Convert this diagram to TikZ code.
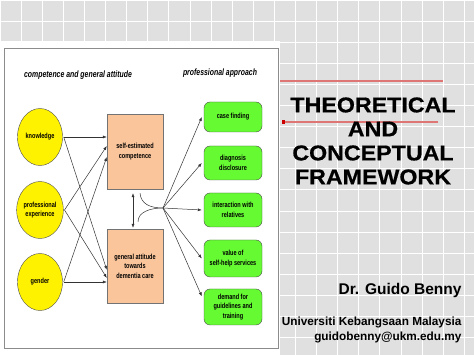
\documentclass[tikz,border=0pt]{standalone}
\usepackage{fontspec}
\setmainfont{Liberation Sans}
\newfontfamily\narrowsf[FakeStretch=0.75]{Liberation Sans}
\newfontfamily\titlesf[FakeStretch=1.08,FakeBold=0.6]{Liberation Sans}
\usetikzlibrary{shapes.geometric,arrows.meta}

\definecolor{slidegray}{RGB}{224,224,224}
\definecolor{peach}{RGB}{250,197,155}
\definecolor{limegreen}{RGB}{102,250,51}
\definecolor{rulered}{RGB}{222,118,118}

\tikzset{
  boxfont/.style={font=\narrowsf\bfseries\fontsize{7.4}{9.5}\selectfont},
  factor/.style={ellipse, draw=black!70, fill=yellow, minimum width=45pt,
    minimum height=57pt, inner sep=0pt, align=center, boxfont},
  midbox/.style={rectangle, draw=black!55, fill=peach, minimum width=56pt,
    minimum height=75pt, align=center, boxfont},
  outbox/.style={rectangle, rounded corners=6pt, draw=black!70, fill=limegreen,
    minimum width=58pt, inner sep=1pt, align=center, boxfont},
  heading/.style={font=\narrowsf\bfseries\itshape\fontsize{9.2}{11}\selectfont},
  link/.style={-{Latex[length=4pt,width=3pt]}, draw=black!80, line width=0.5pt},
}

\begin{document}
\begin{tikzpicture}[x=1pt,y=-1pt]
    \useasboundingbox (0,0) rectangle (474,355);
    % slide background
    \fill[slidegray] (0,0) rectangle (474,355);
    \foreach \i in {0,...,22}
        \draw[white, line width=0.8pt] (\i*21.1,0) -- (\i*21.1,355);
    \foreach \j in {0,...,16}
        \draw[white, line width=0.8pt] (0,\j*21.1) -- (474,\j*21.1);
    \fill[white] (0,41) rectangle (280,355);
    \draw[black!45, line width=0.8pt] (4,48) rectangle (278,348);

    \node[heading] (lefthead) at (78,75) {competence and general attitude};
    \node[heading] (righthead) at (220,73) {professional approach};

    % influencing factors
    \node[factor] (know) at (40,137) {knowledge};
    \node[factor] (profexp) at (40,210) {professional\\experience};
    \node[factor] (gender) at (40,282) {gender};

    % competence and attitude
    \node[midbox] (selfcomp) at (135,151.5) {self-estimated\\competence};
    \node[midbox, minimum height=74pt] (attitude) at (135,266) {general attitude\\towards\\dementia care};

    % professional approach
    \node[outbox, minimum height=30pt] (casefind) at (233,117) {case finding};
    \node[outbox, minimum height=34pt] (diagnosis) at (233,163) {diagnosis\\disclosure};
    \node[outbox, minimum height=34pt] (interact) at (233,210) {interaction with\\relatives};
    \node[outbox, minimum height=37pt] (selfhelp) at (233,258.5) {value of\\self-help services};
    \node[outbox, minimum height=36pt] (demand) at (233,307) {demand for\\guidelines and\\training};

    \draw[link] ([xshift=1pt]know.east) -- (selfcomp.west |- know.east);
    \draw[link] ([xshift=1pt]know.east) -- (attitude.188);
    \draw[link] ([xshift=1pt]profexp.east) -- (selfcomp.169);
    \draw[link] ([xshift=1pt]profexp.east) -- (attitude.203);
    \draw[link] ([xshift=1pt]gender.east) -- (selfcomp.191);
    \draw[link] ([xshift=1pt]gender.east) -- (attitude.west |- gender.east);

    \draw[{Latex[length=4pt,width=3pt]}-{Latex[length=4pt,width=3pt]}, black!80, line width=0.5pt]
        ([shift={(-2,4)}]selfcomp.south) -- ([shift={(-2,-1)}]attitude.north);

    % joint effect
    \coordinate (merge) at (163,208);
    \draw[black!80, line width=0.5pt] ([shift={(5,4)}]selfcomp.south) .. controls (141,204) and (150,208) .. (merge);
    \draw[black!80, line width=0.5pt] ([shift={(3,-7)}]attitude.north) .. controls (138,212) and (150,208) .. (merge);
    \draw[link] (merge) -- ([xshift=-2pt]casefind.west);
    \draw[link] (merge) -- ([xshift=-2pt]diagnosis.west);
    \draw[link] (merge) -- ([xshift=-2pt]interact.west);
    \draw[link] (merge) -- ([xshift=-2pt]selfhelp.west);
    \draw[link] (merge) -- ([xshift=-2pt]demand.160);

    % title side
    \draw[rulered, line width=1.2pt] (280,81) -- (443,81);
    \draw[rulered, line width=1.2pt] (283,122) -- (438,122);
    \fill[red!80!black] (282,120) rectangle (285,124);
    \node[align=center, font=\titlesf\bfseries\fontsize{21.5}{24}\selectfont] (title) at (373,141)
        {THEORETICAL\\AND\\CONCEPTUAL\\FRAMEWORK};
    \node[anchor=east, font=\bfseries\fontsize{15.5}{18}\selectfont] (author) at (465,290) {Dr. Guido Benny};
    \node[anchor=east, align=right, font=\bfseries\fontsize{11.8}{15}\selectfont] (affil) at (465,330)
        {Universiti Kebangsaan Malaysia\\guidobenny@ukm.edu.my};
\end{tikzpicture}
\end{document}
